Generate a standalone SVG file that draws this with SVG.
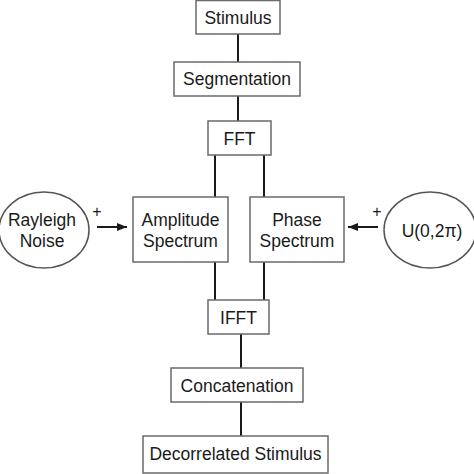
<svg xmlns="http://www.w3.org/2000/svg" width="474" height="474" viewBox="0 0 474 474">
<defs>
<style>
.box{fill:#fff;stroke:#6a6a6a;stroke-width:1.5}
.el{fill:#fff;stroke:#555;stroke-width:1.5}
.t{font-family:"Liberation Sans",Arial,sans-serif;font-size:17.5px;fill:#1a1a1a;text-anchor:middle}
.p{font-family:"Liberation Sans",Arial,sans-serif;font-size:16px;fill:#1a1a1a;text-anchor:middle}
.c{stroke:#1a1a1a;stroke-width:2;fill:none}
</style>
<marker id="ah" viewBox="0 0 10 10" refX="10" refY="5" markerWidth="5" markerHeight="5" orient="auto">
<path d="M0,1 L10,5 L0,9 Z" fill="#1a1a1a"/>
</marker>
</defs>
<rect width="474" height="474" fill="#fff"/>
<g id="connectors">
<line class="c" x1="238" y1="34" x2="238" y2="62"/>
<line class="c" x1="238" y1="96" x2="238" y2="121"/>
<line class="c" x1="215" y1="155" x2="215" y2="197"/>
<line class="c" x1="264" y1="155" x2="264" y2="197"/>
<line class="c" x1="215" y1="262" x2="215" y2="300"/>
<line class="c" x1="264" y1="262" x2="264" y2="300"/>
<line class="c" x1="241" y1="334" x2="241" y2="368"/>
<line class="c" x1="241" y1="402" x2="241" y2="436"/>
<line class="c" x1="97" y1="227" x2="127" y2="227" marker-end="url(#ah)"/>
<line class="c" x1="378" y1="227" x2="348" y2="227" marker-end="url(#ah)"/>
<text class="p" x="97" y="217">+</text>
<text class="p" x="377" y="217">+</text>
</g>
<g id="stimulus"><rect class="box" x="196" y="0.5" width="84" height="33.5"/><text class="t" x="238" y="23.5">Stimulus</text></g>
<g id="segmentation"><rect class="box" x="174" y="62" width="126" height="34"/><text class="t" x="237" y="85">Segmentation</text></g>
<g id="fft"><rect class="box" x="208" y="121" width="63" height="34"/><text class="t" x="239.5" y="144.5">FFT</text></g>
<g id="rayleigh"><ellipse class="el" cx="44" cy="230" rx="45" ry="38"/><text class="t" x="42" y="226">Rayleigh</text><text class="t" x="42" y="247">Noise</text></g>
<g id="amplitude"><rect class="box" x="133" y="197" width="95" height="65"/><text class="t" x="180.5" y="226">Amplitude</text><text class="t" x="180.5" y="247">Spectrum</text></g>
<g id="phase"><rect class="box" x="250" y="197" width="94" height="65"/><text class="t" x="297" y="226">Phase</text><text class="t" x="297" y="247">Spectrum</text></g>
<g id="uniform"><ellipse class="el" cx="430" cy="230" rx="46" ry="38"/><text class="t" x="432" y="237">U(0,2π)</text></g>
<g id="ifft"><rect class="box" x="208" y="300" width="61" height="34"/><text class="t" x="238.5" y="323.5">IFFT</text></g>
<g id="concatenation"><rect class="box" x="171" y="368" width="132" height="34"/><text class="t" x="237" y="391.5">Concatenation</text></g>
<g id="decorrelated"><rect class="box" x="143" y="436" width="185" height="37"/><text class="t" x="235.5" y="460">Decorrelated Stimulus</text></g>
</svg>
